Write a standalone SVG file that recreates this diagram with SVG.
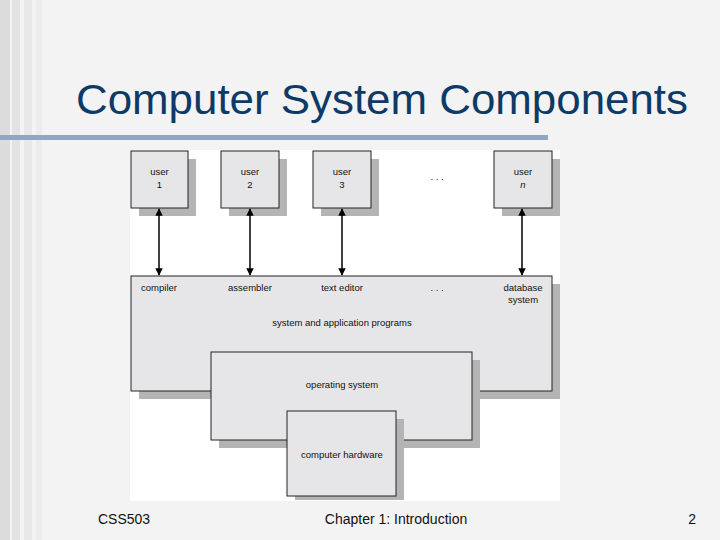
<svg xmlns="http://www.w3.org/2000/svg" width="720" height="540" viewBox="0 0 720 540">
<defs>
<style>
.bx{fill:#e6e6e8;stroke:#222;stroke-width:1}
.sh{fill:#b4b4b4}
.t{font-family:"Liberation Sans",Arial,sans-serif;font-size:9.5px;fill:#111;text-anchor:middle}
.f{font-family:"Liberation Sans",Arial,sans-serif;font-size:14px;fill:#111}
.c{stroke:#000;stroke-width:1.5;marker-start:url(#a);marker-end:url(#a)}
</style>
<marker id="a" viewBox="0 0 10 10" refX="9" refY="5" markerWidth="5" markerHeight="5" orient="auto-start-reverse"><path d="M0,0L10,5L0,10z" fill="#000"/></marker>
</defs>
<rect width="720" height="540" fill="#f3f3f3"/>
<rect x="0" width="10" height="540" fill="#dcdcdc"/>
<rect x="12" width="8" height="540" fill="#e3e3e3"/>
<rect x="24" width="8" height="540" fill="#e8e8e8"/>
<rect x="36" width="6" height="540" fill="#ececec"/>
<text x="76" y="114" font-family="Liberation Sans,Arial,sans-serif" font-size="42" fill="#0d3a66" textLength="612" lengthAdjust="spacingAndGlyphs">Computer System Components</text>
<rect x="0" y="135" width="548" height="5" fill="#8fa7c2"/>
<rect x="130" y="150" width="430" height="351" fill="#fff"/>
<g id="users">
<g id="user1"><rect class="sh" x="139" y="159" width="57" height="57"/><rect class="bx" x="131" y="151" width="57" height="57"/><text class="t" x="159.5" y="175">user</text><text class="t" x="159.5" y="188">1</text></g>
<g id="user2"><rect class="sh" x="229" y="159" width="58" height="57"/><rect class="bx" x="221" y="151" width="58" height="57"/><text class="t" x="250" y="175">user</text><text class="t" x="250" y="188">2</text></g>
<g id="user3"><rect class="sh" x="321" y="159" width="58" height="57"/><rect class="bx" x="313" y="151" width="58" height="57"/><text class="t" x="342" y="175">user</text><text class="t" x="342" y="188">3</text></g>
<text class="t" x="437" y="180">. . .</text>
<g id="usern"><rect class="sh" x="502" y="159" width="58" height="57"/><rect class="bx" x="494" y="151" width="58" height="57"/><text class="t" x="523" y="175">user</text><text class="t" x="523" y="188" font-style="italic">n</text></g>
</g>
<g id="programs"><rect class="sh" x="139" y="284" width="421" height="115"/><rect class="bx" x="131" y="276" width="421" height="115"/>
<text class="t" x="159" y="291">compiler</text><text class="t" x="250" y="291">assembler</text><text class="t" x="342" y="291">text editor</text><text class="t" x="437" y="291">. . .</text><text class="t" x="523" y="291">database</text><text class="t" x="523" y="303">system</text>
<text class="t" x="342" y="326">system and application programs</text></g>
<g id="os"><rect class="sh" x="219" y="360" width="261" height="88"/><rect class="bx" x="211" y="352" width="261" height="88"/><text class="t" x="342" y="388">operating system</text></g>
<g id="hw"><rect class="sh" x="295" y="419" width="109" height="81"/><rect class="bx" x="287" y="411" width="109" height="85"/><text class="t" x="342" y="458">computer hardware</text></g>
<g id="connectors">
<line class="c" x1="159" y1="209" x2="159" y2="275"/>
<line class="c" x1="250" y1="209" x2="250" y2="275"/>
<line class="c" x1="342" y1="209" x2="342" y2="275"/>
<line class="c" x1="522" y1="209" x2="522" y2="275"/>
</g>
<text class="f" x="98" y="524">CSS503</text>
<text class="f" x="396" y="524" text-anchor="middle">Chapter 1: Introduction</text>
<text class="f" x="696" y="524" text-anchor="end">2</text>
</svg>
